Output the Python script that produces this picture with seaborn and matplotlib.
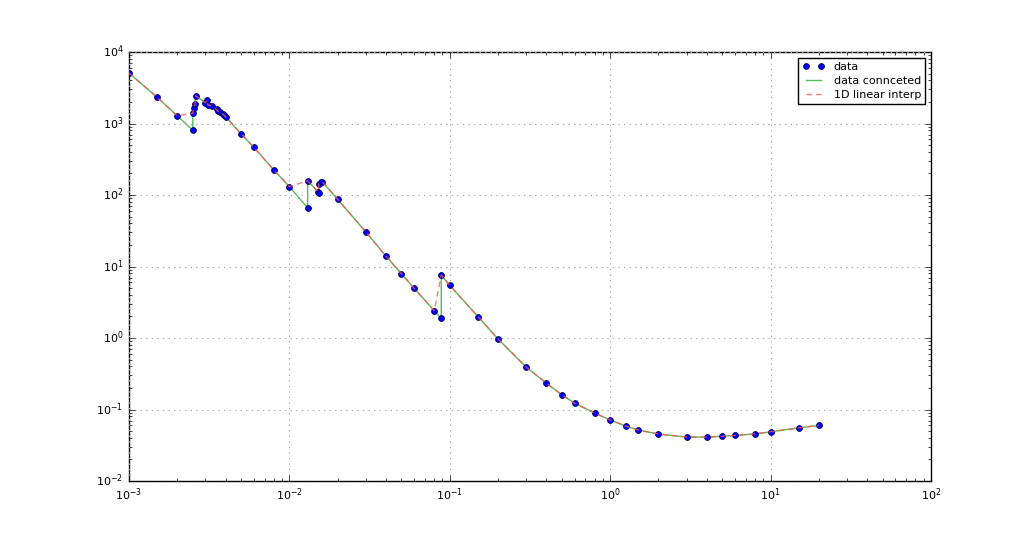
import matplotlib
matplotlib.use("Agg")
import matplotlib.pyplot as plt
import seaborn as sns
import pandas as pd
import numpy as np

# data in original (acquisition) order
x_data = [0.001, 0.0015, 0.002, 0.0025, 0.0025, 0.00254, 0.00258, 0.0026,
          0.003, 0.00308, 0.0031, 0.0033, 0.00352, 0.00358, 0.0037, 0.00385,
          0.0039, 0.004, 0.005, 0.006, 0.008, 0.01, 0.013, 0.013, 0.0151,
          0.0153, 0.0153, 0.0157, 0.016, 0.02, 0.03, 0.04, 0.05, 0.06, 0.08,
          0.0885, 0.0885, 0.1, 0.15, 0.2, 0.3, 0.4, 0.5, 0.6, 0.8, 1.0, 1.25,
          1.5, 2.0, 3.0, 4.0, 5.0, 6.0, 8.0, 10.0, 15.0, 20.0]
y_data = [5080, 2320, 1285, 800, 1390, 1664, 1892, 2449,
          1955, 2133, 1815, 1774, 1570, 1496, 1435, 1358,
          1315, 1245, 720, 465, 224, 131, 66, 158, 111,
          106, 144, 150, 154, 87, 30.4, 14.0, 7.9, 4.95, 2.41,
          1.88, 7.6, 5.46, 1.99, 0.97, 0.39, 0.234, 0.16, 0.123, 0.0893, 0.0713, 0.0588,
          0.0516, 0.0454, 0.0412, 0.0412, 0.0423, 0.0434, 0.0456, 0.0488, 0.0553, 0.0600]

labels = ["data", "data connceted", "1D linear interp"]

df = pd.DataFrame({"x": x_data, "y": y_data})
# interpolation uses unique sorted x (later duplicate wins)
di = df.drop_duplicates(subset="x", keep="last").sort_values("x", kind="stable")

plt.style.use("classic")
plt.rcParams["font.family"] = ["DejaVu Sans"]
plt.rcParams["xtick.labelsize"] = 8
plt.rcParams["ytick.labelsize"] = 8

fig = plt.figure(figsize=(10.35, 5.35), dpi=100, facecolor="white")
ax = fig.add_axes([0.1246, 0.1009, 0.7749, 0.8019])

sns.lineplot(data=df, x="x", y="y", ax=ax, sort=False, estimator=None,
             marker="o", linestyle="", color="blue", markersize=4.2,
             markeredgecolor="#000055", markeredgewidth=0.6, label=labels[0], zorder=3)
sns.lineplot(data=df, x="x", y="y", ax=ax, sort=False, estimator=None,
             color="#55bb55", linewidth=1.0, label=labels[1], zorder=2)
sns.lineplot(data=di, x="x", y="y", ax=ax, sort=False, estimator=None,
             color="#ff5555", linewidth=1.0, alpha=0.8, label=labels[2], zorder=4,
             dashes=(4, 3))

ax.set_xscale("log")
ax.set_yscale("log")
ax.set_xlim(1e-3, 1e2)
ax.set_ylim(1e-2, 1e4)
ax.set_xlabel("")
ax.set_ylabel("")
ax.grid(True, which="major", linestyle=":", color="#aaaaaa", linewidth=0.8)
ax.tick_params(which="both", direction="in", top=True, right=True)
for s in ax.spines.values():
    s.set_color("black")
    s.set_linewidth(1.0)

leg = ax.legend(loc="upper right", fontsize=8, numpoints=2, frameon=True,
                fancybox=False, borderaxespad=0.5, handlelength=2.0,
                borderpad=0.4, labelspacing=0.35)
leg.get_frame().set_edgecolor("black")

fig.savefig("out.png", dpi=100, facecolor="white")
